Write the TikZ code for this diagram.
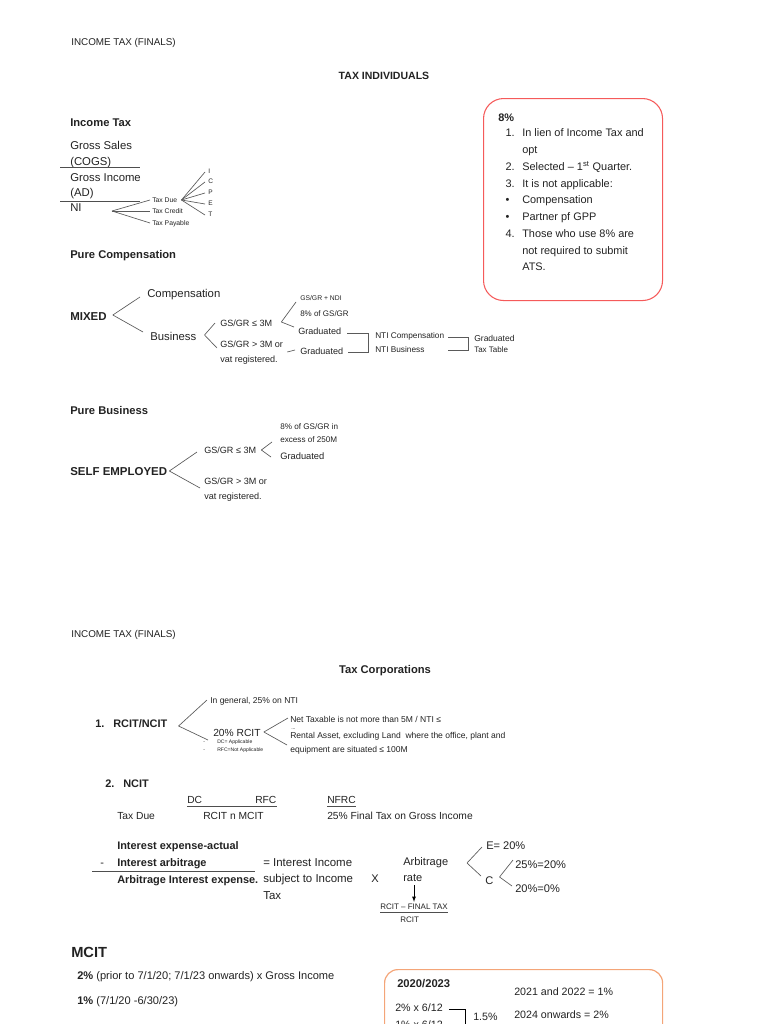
\documentclass[tikz,border=0pt]{standalone}
\usepackage{fontspec}
\setmainfont{Liberation Sans}
\usetikzlibrary{arrows,calc}
\definecolor{inkcolor}{RGB}{34,34,34}
\definecolor{linecolor}{RGB}{90,90,90}
\definecolor{redcolor}{RGB}{245,90,90}
\definecolor{orangecolor}{RGB}{244,165,120}

\tikzset{
  txt/.style={inner sep=0pt, anchor=west, text=inkcolor,
    font=\fontsize{#1}{#1}\selectfont, text height=0.72*#1pt, text depth=0pt},
  txtb/.style={txt=#1, font=\fontsize{#1}{#1}\selectfont\bfseries},
  branch/.style={draw=linecolor, line width=0.5pt},
  rule/.style={draw=inkcolor!80, line width=0.6pt}
}
\newcommand\boxitem[1]{\makebox[18pt][l]{\hspace{5.5pt}#1}}

\begin{document}
\begin{tikzpicture}[x=0.75pt,y=-0.75pt]
\useasboundingbox (0,0) rectangle (768,1024);
\clip (0,0) rectangle (768,1024);

% ================= PAGE 1: HEADER =================
\node[txt=7.4] (head1) at (71,42) {INCOME TAX (FINALS)};
\node[txtb=7.9, anchor=center] (title1) at (384,76) {TAX INDIVIDUALS};

% ================= INCOME TAX =================
\node[txtb=8.4] (inctax) at (70,122) {Income Tax};
\node[txt=8.5] (gsales) at (70,145) {Gross Sales};
\node[txt=8.5] (cogs) at (70,161) {(COGS)};
\draw[rule] (60,167) -- (140,167);
\node[txt=8.5] (gincome) at (70,177) {Gross Income};
\node[txt=8.5] (ad) at (70,192) {(AD)};
\draw[rule] (60,201) -- (140,201);
\node[txt=8.5] (ni) at (70,207) {NI};

% Tax due / credit / payable
\coordinate (niB) at (112,211);
\node[txt=5.1] (taxdue) at (152,200) {Tax Due};
\node[txt=5.1] (taxcred) at (152,211) {Tax Credit};
\node[txt=5.1] (taxpay) at (152,223) {Tax Payable};
\foreach \n in {taxdue,taxcred,taxpay}
  \draw[branch] (niB) -- ($(\n.west)+(-2,0)$);

% I C P E T
\coordinate (dueB) at ($(taxdue.east)+(4,0)$);
\foreach \l/\yy in {I/171,C/181,P/192,E/203,T/214}{
  \node[txt=4.9] (icpet\l) at (208,\yy) {\l};
  \draw[branch] (dueB) -- ($(icpet\l.west)+(-3,1)$);
}

% ================= 8% BOX =================
\node[draw=redcolor, line width=0.8pt, rounded corners=15pt,
  minimum width=134.25pt, minimum height=151.5pt, anchor=north west] (eightbox) at (483,98) {};
\node[anchor=north west, inner sep=0pt, align=left, text=inkcolor,
  font=\fontsize{8.2}{12.55}\selectfont] (eightlist) at (498,114)
{\textbf{8\%}\\[-1.3pt]
\boxitem{1.}In lien of Income Tax and\\
\hspace*{18pt}opt\\
\boxitem{2.}Selected -- 1\textsuperscript{st} Quarter.\\
\boxitem{3.}It is not applicable:\\
\boxitem{\textbullet}Compensation\\
\boxitem{\textbullet}Partner pf GPP\\
\boxitem{4.}Those who use 8\% are\\
\hspace*{18pt}not required to submit\\
\hspace*{18pt}ATS.};

% ================= PURE COMPENSATION / MIXED =================
\node[txtb=8.4] (purecomp) at (70,254) {Pure Compensation};
\node[txtb=8.6] (mixed) at (70,316) {MIXED};
\node[txt=8.5] (comp) at (147,293) {Compensation};
\node[txt=8.5] (business) at (150,336) {Business};
\coordinate (mixB) at ($(mixed.east)+(6,-1)$);
\draw[branch] (mixB) -- ($(comp.west)+(-7,4)$);
\draw[branch] (mixB) -- ($(business.west)+(-7,-4)$);

\node[txt=6.8] (mle) at (220,323) {GS/GR ≤ 3M};
\node[txt=6.8] (mgt) at (220,344) {GS/GR > 3M or};
\node[txt=6.8] (mvat) at (220,359) {vat registered.};
\coordinate (busB) at ($(business.east)+(8,-1)$);
\draw[branch] (busB) -- ($(mle.west)+(-5,0)$);
\draw[branch] (busB) -- ($(mgt.west)+(-3,4)$);

\node[txt=5.1] (ndi) at (300,298) {GS/GR + NDI};
\node[txt=6] (eightgs) at (300,314) {8\% of GS/GR};
\node[txt=6.8] (grad1) at (298,331) {Graduated};
\coordinate (mleB) at ($(mle.east)+(9,-1)$);
\draw[branch] (mleB) -- ($(ndi.west)+(-4,4)$);
\draw[branch] (mleB) -- ($(grad1.west)+(-4,-4)$);

\node[txt=6.8] (grad2) at (300,351) {Graduated};
\draw[branch] ($(mgt.east)+(4,8)$) -- ($(grad2.west)+(-5,-1)$);

% brackets
\node[txt=6.2] (nticomp) at (375,336) {NTI Compensation};
\node[txt=6.2] (ntibus) at (375,350) {NTI Business};
\coordinate (brk1) at (368,333);
\draw[branch] ($(grad1.east)+(6,2)$) -- (brk1) |- ($(grad2.east)+(5,1)$);

\node[txt=6.4] (grad3) at (474,338) {Graduated};
\node[txt=6] (taxtable) at (474,350) {Tax Table};
\coordinate (brk2) at (468,337);
\draw[branch] ($(nticomp.east)+(4,1)$) -- (brk2) |- ($(ntibus.west)+(73,0)$);

% ================= PURE BUSINESS / SELF EMPLOYED =================
\node[txtb=8.4] (purebus) at (70,410) {Pure Business};
\node[txtb=8.6] (selfemp) at (70,471) {SELF EMPLOYED};
\node[txt=6.8] (sle) at (204,450) {GS/GR ≤ 3M};
\node[txt=6.8] (sgt) at (204,481) {GS/GR > 3M or};
\node[txt=6.8] (svat) at (204,496) {vat registered.};
\coordinate (selfB) at ($(selfemp.east)+(2,0)$);
\draw[branch] (selfB) -- ($(sle.west)+(-7,2)$);
\draw[branch] (selfB) -- ($(sgt.west)+(-4,7)$);

\node[txt=6.1] (sexc1) at (280,427) {8\% of GS/GR in};
\node[txt=6.1] (sexc2) at (280,440) {excess of 250M};
\node[txt=7] (sgrad) at (280,456) {Graduated};
\coordinate (sleB) at ($(sle.east)+(5,0)$);
\draw[branch] (sleB) -- ($(sexc2.west)+(-8,2)$);
\draw[branch] (sleB) -- ($(sgrad.west)+(-9,1)$);

% ================= PAGE 2: HEADER =================
\node[txt=7.4] (head2) at (71,634) {INCOME TAX (FINALS)};
\node[txtb=8.4, anchor=center] (title2) at (385,669) {Tax Corporations};

% ================= RCIT / NCIT =================
\node[txtb=8.2] (rcitno) at (95,724) {1.};
\node[txtb=8.2] (rcit) at (113,724) {RCIT/NCIT};
\node[txt=6.4] (general) at (210,700) {In general, 25\% on NTI};
\node[txt=7.7] (rcit20) at (213,733) {20\% RCIT};
\coordinate (rcitB) at ($(rcit.east)+(11,2)$);
\draw[branch] (rcitB) -- ($(general.west)+(-3,0)$);
\draw[branch] (rcitB) -- ($(rcit20.west)+(-5,7)$);
\node[txt=3.8] (dcapp) at (203,742) {\makebox[10.5pt][l]{-}DC= Applicable};
\node[txt=3.8] (rfcapp) at (203,750) {\makebox[10.5pt][l]{-}RFC=Not Applicable};

\node[txt=6.4] (nettax) at (290,719) {Net Taxable is not more than 5M / NTI ≤};
\node[txt=4] (nettaxdots) at (291,727.5) {...};
\node[txt=6.4] (rental) at (290,735) {Rental Asset, excluding Land\ \ where the office, plant and};
\node[txt=6.4] (equip) at (290,749) {equipment are situated ≤ 100M};
\coordinate (r20B) at ($(rcit20.east)+(3,-1)$);
\draw[branch] (r20B) -- ($(nettax.west)+(-2,-1)$);
\draw[branch] (r20B) -- ($(rental.west)+(-3,10)$);

% ================= NCIT =================
\node[txtb=8.2] (ncitno) at (105,784) {2.};
\node[txtb=8.2] (ncit) at (123,784) {NCIT};
\node[txt=7.7] (dc) at (187,800) {DC};
\node[txt=7.7] (rfc) at (255,800) {RFC};
\draw[rule] ($(dc.south west)+(0,2)$) -- ($(rfc.south east)+(0,2)$);
\node[txt=7.7] (nfrc) at (327,800) {NFRC};
\draw[rule] ($(nfrc.south west)+(0,2)$) -- ($(nfrc.south east)+(0,2)$);
\node[txt=7.7] (ncitdue) at (117,816) {Tax Due};
\node[txt=7.7] (rcitmcit) at (203,816) {RCIT n MCIT};
\node[txt=7.7] (finaltax) at (327,816) {25\% Final Tax on Gross Income};

% ================= INTEREST ARBITRAGE =================
\node[txtb=8.2] (intact) at (117,846) {Interest expense-actual};
\node[txt=8.2] (intminus) at (100,863) {-};
\node[txtb=8.2] (intarb) at (117,863) {Interest arbitrage};
\draw[rule] (92,871) -- (255,871);
\node[txtb=8.2] (intexp) at (117,880) {Arbitrage Interest expense.};

\node[txt=8.6] (eqinc) at (263,862) {= Interest Income};
\node[txt=8.6] (eqsub) at (263,878) {subject to Income};
\node[txt=8.6] (eqtax) at (263,895) {Tax};
\node[txt=8.3] (times) at (371,879) {X};
\node[txt=8.3] (arbrate) at (403,862) {Arbitrage};
\node[txt=8.3] (rate) at (403,878) {rate};
\node[txt=6] (rcitfin) at (380,907) {RCIT -- FINAL TAX};
\draw[rule] ($(rcitfin.south west)+(0,2)$) -- ($(rcitfin.south east)+(0,2)$);
\node[txt=6] (rcitden) at (400,920) {RCIT};
\draw[-latex, black] ($(rate.south west)+(11,3)$) -- ($(rcitfin.north west)+(34,-2)$);

% E / C split
\node[txt=8.3] (eshare) at (486,846) {E= 20\%};
\node[txt=8.3] (cshare) at (485,881) {C};
\coordinate (ecB) at (467,863);
\draw[branch] (ecB) -- ($(eshare.west)+(-4,1)$);
\draw[branch] (ecB) -- ($(cshare.west)+(-4,-5)$);
\node[txt=8.3] (c25) at (515,865) {25\%=20\%};
\node[txt=8.3] (c20) at (515,889) {20\%=0\%};
\coordinate (cB) at ($(cshare.east)+(6,-4)$);
\draw[branch] (cB) -- ($(c25.west)+(-2,-5)$);
\draw[branch] (cB) -- ($(c20.west)+(-3,-3)$);

% ================= MCIT =================
\node[txtb=11] (mcit) at (71,952) {MCIT};
\node[txt=8.3] (mcit2) at (77,976) {\textbf{2\%} (prior to 7/1/20; 7/1/23 onwards) x Gross Income};
\node[txt=8.3] (mcit1) at (77,1001) {\textbf{1\%} (7/1/20 -6/30/23)};

% ================= YEAR BOX (cut at page end) =================
\node[draw=orangecolor, line width=0.9pt, rounded corners=10pt,
  minimum width=208.5pt, minimum height=100pt, anchor=north west] (yearbox) at (384,969) {};
\node[txtb=8.4] (y2023) at (397,983) {2020/2023};
\node[txt=8] (y2122) at (514,991.5) {2021 and 2022 = 1\%};
\node[txt=8] (y2024) at (514,1015) {2024 onwards = 2\%};
\node[txt=8] (half2) at (395,1007.5) {2\% x 6/12};
\node[txt=8] (half1) at (395,1024.5) {1\% x 6/12};
\node[txt=8] (avg) at (473,1016.5) {1.5\%};
\coordinate (brk3) at (465,1009);
\draw[black, line width=0.6pt] ($(half2.east)+(6,1.5)$) -- (brk3) |- ($(half1.east)+(6,1)$);

\end{tikzpicture}
\end{document}
